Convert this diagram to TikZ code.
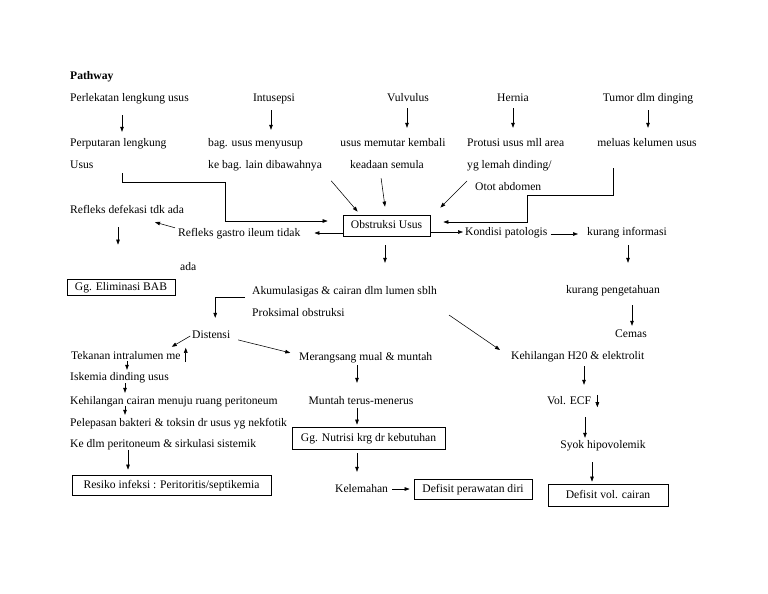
\documentclass[tikz,border=0pt]{standalone}
\usepackage{fontspec}
\setmainfont{Liberation Serif}
\usetikzlibrary{arrows.meta}
\tikzset{
  teks/.style={inner sep=0pt, text height=8pt, text depth=2pt},
  kotak/.style={draw, line width=0.8pt, inner sep=0pt, text height=8pt, text depth=2pt},
  panah/.style={line width=0.55pt, -{Triangle[length=5pt,width=3.6pt]}},
}
\begin{document}
\begin{tikzpicture}[x=1pt,y=-1pt]
            \useasboundingbox (0,0) rectangle (768,594);
            {\fontsize{11.6}{13}\selectfont

            % Marking point {Pathway}
            \node [teks, anchor=west, font=\bfseries] (pathway) at (70,76) {Pathway};%

            % Marking points of the first row
            \node [teks, anchor=west] (perlekatan) at (70,98) {Perlekatan lengkung usus};%
            \node [teks] (intusepsi) at (274,98) {Intusepsi};%
            \node [teks] (vulvulus) at (408,98) {Vulvulus};%
            \node [teks] (hernia) at (513,98) {Hernia};%
            \node [teks] (tumor) at (648,98) {Tumor dlm dinging};%

            % Marking points of the second row
            \node [teks, anchor=west] (perputaran) at (70,143) {Perputaran lengkung};%
            \node [teks, anchor=west] (bagusus) at (208,143) {bag. usus menyusup};%
            \node [teks] (memutar) at (393,143) {usus memutar kembali};%
            \node [teks, anchor=west] (protusi) at (467,143) {Protusi usus mll area};%
            \node [teks] (meluas) at (647,143) {meluas kelumen usus};%

            % Marking points of the third row
            \node [teks, anchor=west] (usus) at (70,165) {Usus};%
            \node [teks, anchor=west] (kebag) at (208,165) {ke bag. lain dibawahnya};%
            \node [teks] (keadaan) at (387,165) {keadaan semula};%
            \node [teks, anchor=west] (lemah) at (467,165) {yg lemah dinding/};%
            \node [teks, anchor=west] (otot) at (475,187) {Otot abdomen};%

            % Drawing box {Obstruksi Usus}
            \node [kotak, minimum width=87pt, minimum height=21pt] (obstruksi) at (386.5,225.5) {Obstruksi Usus};%

            % Marking points round the box
            \node [teks, anchor=west] (defekasi) at (70,210) {Refleks defekasi tdk ada};%
            \node [teks, anchor=west] (gastro) at (178,233) {Refleks gastro ileum tidak};%
            \node [teks, anchor=west] (ada) at (180,267) {ada};%
            \node [kotak, minimum width=108pt, minimum height=16pt] (eliminasi) at (121,287) {Gg. Eliminasi BAB};%
            \node [teks, anchor=west] (kondisi) at (465,232) {Kondisi patologis};%
            \node [teks, anchor=west] (kurinfo) at (587,232) {kurang informasi};%
            \node [teks] (kurpeng) at (613,290) {kurang pengetahuan};%
            \node [teks] (cemas) at (631,334) {Cemas};%

            % Marking points of the lower part
            \node [teks, anchor=west] (akumulasi) at (252,291) {Akumulasigas \& cairan dlm lumen sblh};%
            \node [teks, anchor=west] (proksimal) at (252,313) {Proksimal obstruksi};%
            \node [teks, anchor=west] (distensi) at (192,335) {Distensi};%
            \node [teks, anchor=west] (tekanan) at (71,356) {Tekanan intralumen me};%
            \node [teks, anchor=west] (iskemia) at (70,377) {Iskemia dinding usus};%
            \node [teks, anchor=west] (kehilangan) at (70,401) {Kehilangan cairan menuju ruang peritoneum};%
            \node [teks, anchor=west] (pelepasan) at (70,423) {Pelepasan bakteri \& toksin dr usus yg nekfotik};%
            \node [teks, anchor=west] (kedlm) at (70,444) {Ke dlm peritoneum \& sirkulasi sistemik};%
            \node [kotak, minimum width=199pt, minimum height=20pt] (resiko) at (171.5,485) {Resiko infeksi : Peritoritis/septikemia};%
            \node [teks, anchor=west] (merangsang) at (299,357) {Merangsang mual \& muntah};%
            \node [teks] (muntah) at (361,401) {Muntah terus-menerus};%
            \node [kotak, minimum width=153pt, minimum height=22pt] (nutrisi) at (368.5,438) {Gg. Nutrisi krg dr kebutuhan};%
            \node [teks, anchor=west] (kelemahan) at (335,489) {Kelemahan};%
            \node [kotak, minimum width=118pt, minimum height=20pt] (perawatan) at (473,489) {Defisit perawatan diri};%
            \node [teks, anchor=west] (kehh2o) at (511,356) {Kehilangan H20 \& elektrolit};%
            \node [teks, anchor=west] (volecf) at (547,401) {Vol. ECF};%
            \node [teks] (syok) at (603,445) {Syok hipovolemik};%
            \node [kotak, minimum width=120pt, minimum height=22pt] (volcairan) at (608,495) {Defisit vol. cairan};%

            % Drawing arrows first row to second row
            \draw [panah, shorten <=12pt, shorten >=6pt] (122,0 |- perlekatan.south) -- (122,0 |- perputaran.north);%
            \draw [panah, shorten <=7pt, shorten >=8pt] (271,0 |- intusepsi.south) -- (271,0 |- bagusus.north);%
            \draw [panah, shorten <=5pt, shorten >=10pt] (407,0 |- vulvulus.south) -- (407,0 |- memutar.north);%
            \draw [panah, shorten <=5pt, shorten >=10pt] (513,0 |- hernia.south) -- (513,0 |- protusi.north);%
            \draw [panah, shorten <=7pt, shorten >=10pt] (648,0 |- tumor.south) -- (648,0 |- meluas.north);%

            % Drawing arrows into obstruksi
            \draw [panah, shorten <=3pt, shorten >=15pt] (122,0 |- usus.south) |- (225,182) |- ([yshift=4.5pt]obstruksi.west);%
            \draw [panah, shorten <=14pt] (kebag.south east) -- ([xshift=15pt,yshift=3pt]obstruksi.north west);%
            \draw [panah, shorten <=8pt] ([xshift=-7pt]keadaan.south) -- ([xshift=-1.5pt,yshift=8pt]obstruksi.north);%
            \draw [panah] ([xshift=-8pt,yshift=6pt]otot.west) -- ([xshift=10pt,yshift=7pt]obstruksi.north east);%
            \draw [panah, shorten <=20pt, shorten >=13pt] (613,0 |- meluas.south) |- (527,195) |- ([yshift=3.5pt]obstruksi.east);%

            % Drawing arrows out of obstruksi
            \draw [panah, shorten >=14pt] ([yshift=-7.5pt]obstruksi.west) -- (gastro.east);%
            \draw [panah] ([xshift=-3pt]gastro.north west) -- ([xshift=85pt,yshift=-7pt]defekasi.south west);%
            \draw [panah, shorten <=12pt, shorten >=34pt] (118,0 |- defekasi.south) -- (118,0 |- eliminasi.north);%
            \draw [panah, shorten >=2pt] ([yshift=-6.5pt]obstruksi.east) -- (kondisi.west);%
            \draw [panah, shorten <=3pt, shorten >=9pt] ([yshift=-2pt]kondisi.east) -- ([yshift=-2pt]kurinfo.west);%
            \draw [panah, shorten <=8pt, shorten >=22pt] (628,0 |- kurinfo.south) -- (628,0 |- kurpeng.north);%
            \draw [panah, shorten <=10pt, shorten >=3pt] (632,0 |- kurpeng.south) -- (632,0 |- cemas.north);%
            \draw [panah, shorten <=9pt, shorten >=23pt] (385,0 |- obstruksi.south) -- (385,0 |- akumulasi.north);%

            % Drawing arrows of distensi
            \draw [panah, shorten <=7pt, shorten >=12pt] ([yshift=-6pt]akumulasi.west) -| ([xshift=4pt]distensi.north);%
            \draw [panah, shorten <=2pt] (distensi.west) -- ([xshift=-9pt,yshift=4pt]tekanan.north east);%
            \draw [panah, shorten <=8pt, shorten >=9pt] ([yshift=-3pt]distensi.east) -- ([yshift=2pt]merangsang.west);%
            \draw [panah] ([xshift=5pt,yshift=-1pt]tekanan.south east) -- ([xshift=5pt,yshift=3pt]tekanan.north east);%
            \draw [panah, shorten >=2pt] (127,0 |- tekanan.south) -- (127,0 |- iskemia.north);%
            \draw [panah, shorten <=1pt, shorten >=3pt] (125,0 |- iskemia.south) -- (125,0 |- kehilangan.north);%
            \draw [panah, shorten >=3pt] (125,0 |- kehilangan.south) -- (125,0 |- pelepasan.north);%
            \draw [panah, shorten <=1pt, shorten >=5pt] (128,0 |- kedlm.south) -- (128,0 |- resiko.north);%

            % Drawing arrows of muntah
            \draw [panah, shorten <=3pt, shorten >=13pt] (357,0 |- merangsang.south) -- (357,0 |- muntah.north);%
            \draw [panah, shorten <=2pt, shorten >=2pt] (357,0 |- muntah.south) -- (357,0 |- nutrisi.north);%
            \draw [panah, shorten <=4pt, shorten >=12pt] (357,0 |- nutrisi.south) -- (357,0 |- kelemahan.north);%
            \draw [panah, shorten <=4pt, shorten >=4pt] (kelemahan.east) -- (perawatan.west);%

            % Drawing arrows of cairan
            \draw [panah] ([xshift=12pt,yshift=-24pt]akumulasi.east) -- ([xshift=-11pt,yshift=6pt]kehh2o.west);%
            \draw [panah, shorten <=5pt, shorten >=11pt] (584,0 |- kehh2o.south) -- (584,0 |- volecf.north);%
            \draw [panah] ([xshift=6pt,yshift=1pt]volecf.north east) -- ([xshift=6pt,yshift=-1pt]volecf.south east);%
            \draw [panah, shorten <=11pt, shorten >=2pt] (585,0 |- volecf.south) -- (585,0 |- syok.north);%
            \draw [panah, shorten <=12pt, shorten >=2pt] (592,0 |- syok.south) -- (592,0 |- volcairan.north);%
            }
\end{tikzpicture}
\end{document}
